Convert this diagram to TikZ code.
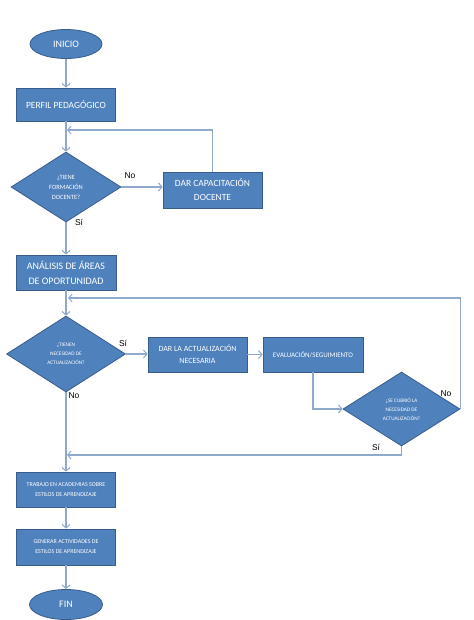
\documentclass[tikz,border=0pt]{standalone}
\usepackage{fontspec}
\setmainfont{Carlito}
\newfontfamily\lblfont{Liberation Sans}
\usetikzlibrary{shapes.geometric,arrows.meta}
\definecolor{fillblue}{HTML}{4F81BD}
\definecolor{edgeblue}{HTML}{385D8A}
\definecolor{linkblue}{HTML}{8EA9CC}
\tikzset{
  base/.style={fill=fillblue,draw=edgeblue,line width=0.8pt,text=white,inner sep=1pt,align=center},
  procbox/.style={base,rectangle,minimum width=99bp,minimum height=35bp},
  termnode/.style={base,ellipse,minimum width=72bp,minimum height=29bp,font=\fontsize{10}{12}\selectfont},
  decision/.style={base,diamond,inner sep=0pt},
  link/.style={draw=linkblue,line width=1.3pt,-{Straight Barb[length=3.5pt,width=8pt,line width=1pt]}},
  plain/.style={draw=linkblue,line width=1.3pt},
  lbl/.style={font=\lblfont\fontsize{8.5}{10}\selectfont,text=black,inner sep=0pt}
}
\begin{document}
\begin{tikzpicture}[x=1bp,y=-1bp]
\useasboundingbox (0,0) rectangle (474,620);
\node[termnode] (inicio) at (66,44) {INICIO};
\node[procbox,minimum height=33bp,font=\fontsize{9.5}{12}\selectfont] (perfil) at (66,104.5) {PERFIL PEDAGÓGICO};
\node[decision,minimum width=110bp,minimum height=70bp,font=\fontsize{6.5}{10}\selectfont] (d1) at (66,187) {¿TIENE\\FORMACIÓN\\DOCENTE?};
\node[procbox,minimum height=36bp,font=\fontsize{9.5}{14}\selectfont] (dar1) at (212.5,190) {DAR CAPACITACIÓN\\DOCENTE};
\node[procbox,minimum width=100bp,font=\fontsize{10}{15}\selectfont] (analisis) at (66,272.5) {ANÁLISIS DE ÁREAS\\DE OPORTUNIDAD};
\node[decision,minimum width=119bp,minimum height=76bp,font=\fontsize{5.3}{9}\selectfont] (d2) at (66,354) {¿TIENEN\\NECESIDAD DE\\ACTUALIZACIÓN?};
\node[procbox,font=\fontsize{8}{12}\selectfont] (dar2) at (197.5,354.5) {DAR LA ACTUALIZACIÓN\\NECESARIA};
\node[procbox,minimum width=100bp,font=\fontsize{7}{10}\selectfont] (eval) at (313,354.5) {EVALUACIÓN/SEGUIMIENTO};
\node[decision,minimum width=117bp,minimum height=74bp,font=\fontsize{5.3}{9}\selectfont] (d3) at (401.5,409) {¿SE CUBRIÓ LA\\NECESIDAD DE\\ACTUALIZACIÓN?};
\node[procbox,font=\fontsize{6}{10}\selectfont] (trabajo) at (66,489.5) {TRABAJO EN ACADEMIAS SOBRE\\ESTILOS DE APRENDIZAJE};
\node[procbox,minimum height=36bp,font=\fontsize{6}{10}\selectfont] (generar) at (66,547) {GENERAR ACTIVIDADES DE\\ESTILOS DE APRENDIZAJE};
\node[termnode,minimum width=73bp,minimum height=30bp] (fin) at (66,604.5) {FIN};
\coordinate (j1) at (67,130);
\coordinate (j2) at (68,298);
\coordinate (j3) at (67,455);
% connectors
\draw[link] (inicio) -- (perfil);
\draw[link] (perfil) -- (d1);
\draw[link] (d1.east) -- (d1.east -| dar1.west);
\draw[link] (dar1.north) |- (j1);
\draw[link] (d1.south) -- (analisis.north);
\draw[link] (analisis) -- (d2);
\draw[link] (d2.east) -- (d2.east -| dar2.west);
\draw[link] (dar2) -- (eval);
\draw[link] (eval.south) |- (d3.west);
\draw[link] (d3.east) -- (d3.east |- j2) -- (j2);
\draw[link] (d3.south) -- (d3.south |- j3) -- (j3);
\draw[link] (d2.south) -- (trabajo.north);
\draw[link] (trabajo) -- (generar);
\draw[link] (generar) -- (fin);
% labels
\node[lbl] (lno1) at (130,176) {No};
\node[lbl] (lsi1) at (79,222) {Sí};
\node[lbl] (lsi2) at (123,343) {Sí};
\node[lbl] (lno2) at (74,396) {No};
\node[lbl] (lno3) at (446,394) {No};
\node[lbl] (lsi3) at (376,447) {Sí};
\end{tikzpicture}
\end{document}
